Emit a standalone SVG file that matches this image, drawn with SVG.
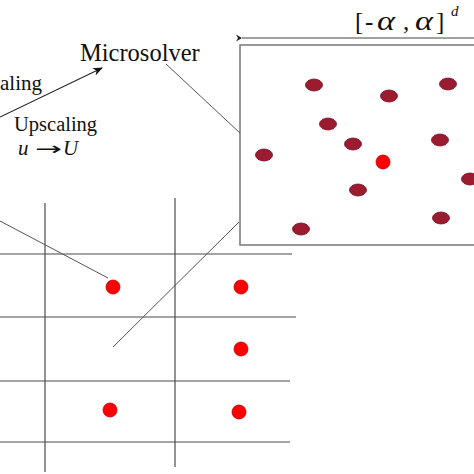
<svg xmlns="http://www.w3.org/2000/svg" width="474" height="474" viewBox="0 0 474 474">
<style>
.grid{stroke:#4a4a4a;stroke-width:1.2;fill:none}
.lead{stroke:#555;stroke-width:1;fill:none}
.red{fill:#ff0000;stroke:#c00000;stroke-width:0.8}
.dark{fill:#9b1b30;stroke:#6e1020;stroke-width:0.8}
.t{font-family:"Liberation Serif",serif;fill:#111}
</style>
<defs>
<marker id="ah" markerWidth="10" markerHeight="8" refX="9" refY="4" orient="auto" markerUnits="userSpaceOnUse">
<path d="M0,0 L10,4 L0,8 L3,4 Z" fill="#111"/>
</marker>
<marker id="open" markerWidth="8" markerHeight="8" refX="1" refY="4" orient="auto" markerUnits="userSpaceOnUse">
<path d="M7,0.5 L1,4 L7,7.5 L5,4 Z" fill="#222"/>
</marker>
</defs>
<rect width="474" height="474" fill="#fff"/>
<g id="grid">
<line class="grid" x1="45" y1="203" x2="45" y2="472"/>
<line class="grid" x1="175" y1="198" x2="175" y2="467"/>
<line class="grid" x1="0" y1="254" x2="292" y2="254"/>
<line class="grid" x1="0" y1="317" x2="296" y2="317"/>
<line class="grid" x1="0" y1="381" x2="290" y2="381"/>
<line class="grid" x1="0" y1="442" x2="290" y2="442"/>
</g>
<g id="grid-points">
<circle class="red" cx="113" cy="287" r="7"/>
<circle class="red" cx="241" cy="287" r="7"/>
<circle class="red" cx="241" cy="349" r="7"/>
<circle class="red" cx="110" cy="410" r="7"/>
<circle class="red" cx="239" cy="412" r="7"/>
</g>
<g id="microbox">
<rect x="240" y="45" width="240" height="200" fill="#fff" stroke="#777" stroke-width="1.5"/>
<ellipse class="dark" cx="314" cy="85" rx="8.5" ry="6"/>
<ellipse class="dark" cx="389" cy="96" rx="8.5" ry="6"/>
<ellipse class="dark" cx="448" cy="84" rx="8.5" ry="6"/>
<ellipse class="dark" cx="328" cy="124" rx="8.5" ry="6"/>
<ellipse class="dark" cx="353" cy="144" rx="8.5" ry="6"/>
<ellipse class="dark" cx="440" cy="140" rx="8.5" ry="6"/>
<ellipse class="dark" cx="264" cy="155" rx="8.5" ry="6"/>
<ellipse class="dark" cx="358" cy="190" rx="8.5" ry="6"/>
<ellipse class="dark" cx="470" cy="179" rx="8.5" ry="6"/>
<ellipse class="dark" cx="441" cy="218" rx="8.5" ry="6"/>
<ellipse class="dark" cx="301" cy="229" rx="8.5" ry="6"/>
<circle class="red" cx="383" cy="162" r="7"/>
</g>
<g id="connectors">
<line class="lead" x1="0" y1="221" x2="108" y2="278"/>
<line class="lead" x1="113" y1="347" x2="239" y2="222"/>
<line class="lead" x1="166" y1="64" x2="240" y2="133"/>
<line x1="0" y1="117" x2="102" y2="68" stroke="#222" stroke-width="1.1" marker-end="url(#ah)"/>
<line x1="474" y1="38" x2="242" y2="38" stroke="#444" stroke-width="1" marker-end="url(#open)"/>
</g>
<g id="labels">
<text class="t" x="80" y="61" font-size="24.5">Microsolver</text>
<text class="t" x="0" y="90" font-size="21">aling</text>
<text class="t" x="14" y="131" font-size="20.5">Upscaling</text>
<text class="t" x="18" y="155" font-size="21"><tspan font-style="italic">u</tspan><tspan x="35" font-family="DejaVu Sans" font-size="18" textLength="27" lengthAdjust="spacingAndGlyphs">→</tspan><tspan x="63" font-style="italic">U</tspan></text>
<text class="t" y="30" font-size="25"><tspan x="355">[</tspan><tspan x="365">-</tspan><tspan x="377" font-style="italic" font-size="28" textLength="18" lengthAdjust="spacingAndGlyphs">α</tspan><tspan x="403">,</tspan><tspan x="415" font-style="italic" font-size="28" textLength="18" lengthAdjust="spacingAndGlyphs">α</tspan><tspan x="436">]</tspan></text>
<text class="t" x="451" y="16" font-size="15" font-style="italic">d</text>
</g>
</svg>
